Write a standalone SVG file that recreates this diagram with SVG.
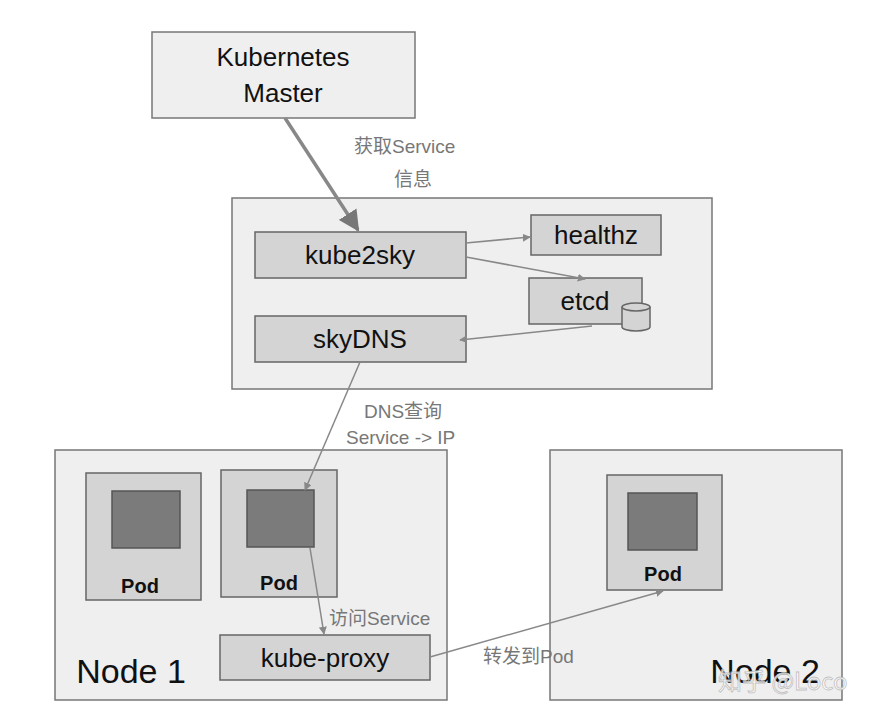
<svg xmlns="http://www.w3.org/2000/svg" width="886" height="717" viewBox="0 0 886 717">
<defs>
<marker id="a" viewBox="0 0 10 10" refX="9" refY="5" markerWidth="8" markerHeight="8" markerUnits="userSpaceOnUse" orient="auto"><path d="M0,0 L10,5 L0,10 z" fill="#888"/></marker>
<marker id="b" viewBox="0 0 10 10" refX="9" refY="5" markerWidth="6" markerHeight="6" orient="auto"><path d="M0,0 L10,5 L0,10 z" fill="#777"/></marker>
<style>
.bg{fill:#efeff0;stroke:#777;stroke-width:1.5}
.box{fill:#d4d4d4;stroke:#666;stroke-width:1.5}
.in{fill:#7b7b7b;stroke:#555;stroke-width:1.5}
.t{font-family:"Liberation Sans",Arial,sans-serif;fill:#111;text-anchor:middle}
.l{font-family:"Liberation Sans","Noto Sans CJK SC",sans-serif;fill:#777;font-size:19px}
.c{stroke:#888;stroke-width:1.5;fill:none;marker-end:url(#a)}
</style>
</defs>
<rect width="886" height="717" fill="#fff"/>
<g id="master"><rect class="bg" x="152" y="32" width="263" height="86"/><text class="t" x="283" y="66" font-size="26">Kubernetes</text><text class="t" x="283" y="102" font-size="26">Master</text></g>
<g id="dnsbox"><rect class="bg" x="232" y="198" width="480" height="191"/></g>
<g id="kube2sky"><rect class="box" x="255" y="232" width="211" height="46"/><text class="t" x="360" y="264" font-size="26">kube2sky</text></g>
<g id="healthz"><rect class="box" x="531" y="215" width="130" height="40"/><text class="t" x="596" y="244" font-size="26">healthz</text></g>
<g id="etcd"><rect class="box" x="529" y="278" width="113" height="46"/><text class="t" x="585" y="310" font-size="26">etcd</text>
<path d="M622,307 v20 a14,4 0 0 0 28,0 v-20" fill="#d4d4d4" stroke="#666" stroke-width="1.5"/><ellipse cx="636" cy="307" rx="14" ry="4" fill="#d4d4d4" stroke="#666" stroke-width="1.5"/></g>
<g id="skydns"><rect class="box" x="255" y="316" width="211" height="46"/><text class="t" x="360" y="348" font-size="26">skyDNS</text></g>
<g id="node1"><rect class="bg" x="55" y="450" width="392" height="250"/><text class="t" x="131" y="683" font-size="34">Node 1</text></g>
<g id="node2"><rect class="bg" x="550" y="450" width="292" height="250"/><text class="t" x="765" y="683" font-size="34">Node 2</text></g>
<g id="pod1"><rect class="box" x="86" y="473" width="115" height="127"/><rect class="in" x="112" y="491" width="68" height="57"/><text class="t" x="140" y="593" font-size="20" font-weight="bold">Pod</text></g>
<g id="pod2"><rect class="box" x="221" y="470" width="116" height="127"/><rect class="in" x="247" y="490" width="67" height="57"/><text class="t" x="279" y="590" font-size="20" font-weight="bold">Pod</text></g>
<g id="pod3"><rect class="box" x="607" y="475" width="115" height="115"/><rect class="in" x="628" y="493" width="69" height="57"/><text class="t" x="663" y="581" font-size="20" font-weight="bold">Pod</text></g>
<g id="kubeproxy"><rect class="box" x="220" y="635" width="210" height="45"/><text class="t" x="325" y="667" font-size="26">kube-proxy</text></g>
<g id="connectors">
<line x1="285" y1="118" x2="358" y2="230" stroke="#888" stroke-width="3.5" marker-end="url(#b)"/>
<line class="c" x1="466" y1="243" x2="530" y2="237"/>
<line class="c" x1="466" y1="257" x2="585" y2="279"/>
<line class="c" x1="592" y1="326" x2="460" y2="340"/>
<line class="c" x1="360" y1="362" x2="305" y2="490"/>
<line class="c" x1="310" y1="548" x2="324" y2="634"/>
<line class="c" x1="430" y1="657" x2="663" y2="591"/>
</g>
<g id="labels">
<text class="l" x="354" y="153">获取Service</text>
<text class="l" x="394" y="186">信息</text>
<text class="l" x="364" y="418">DNS查询</text>
<text class="l" x="346" y="444">Service -&gt; IP</text>
<text class="l" x="329" y="625">访问Service</text>
<text class="l" x="483" y="663">转发到Pod</text>
</g>
<text x="718" y="690" font-family="'Noto Sans CJK SC',sans-serif" font-size="24" fill="#fff" stroke="#bbb" stroke-width="0.8" opacity="0.9">知乎 @Loco</text>
</svg>
